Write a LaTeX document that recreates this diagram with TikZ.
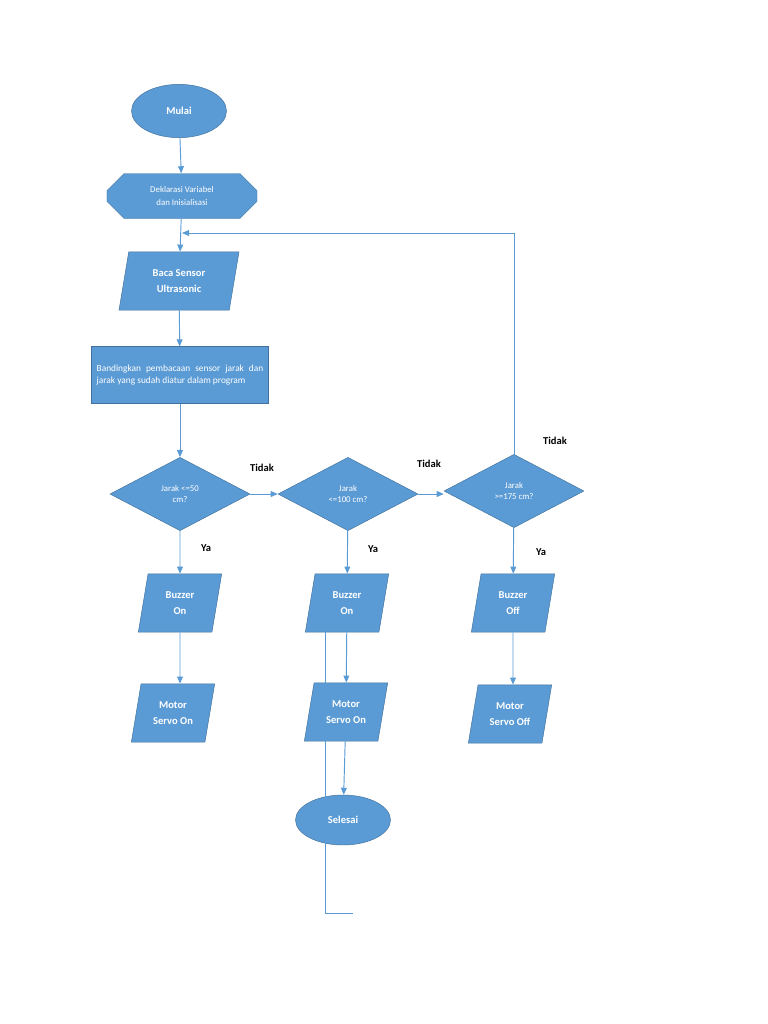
\documentclass[tikz,border=0pt]{standalone}
\usepackage{fontspec}
\setmainfont{Carlito}
\usetikzlibrary{shapes.geometric,shapes.misc,arrows.meta}
\definecolor{boxfill}{HTML}{5B9BD5}
\definecolor{boxline}{HTML}{41719C}
\tikzset{
	base/.style={draw=boxline, fill=boxfill, text=white, align=center, font=\bfseries\fontsize{9}{13}\selectfont},
	term/.style={base, ellipse, minimum width=2.85cm, minimum height=1.6cm},
	io/.style={base, trapezium, trapezium left angle=72, trapezium right angle=108, trapezium stretches body, minimum width=2.5cm, minimum height=1.75cm},
	decide/.style={base, diamond, aspect=1.9, minimum width=4.2cm, minimum height=2.2cm, font=\fontsize{7.5}{10}\selectfont, inner sep=0pt},
	flow/.style={draw=boxfill, thick, -{Triangle[length=6pt,width=5pt]}},
	lbl/.style={font=\bfseries\fontsize{9}{11}\selectfont}
}
\begin{document}
\begin{tikzpicture}[x=0.03cm, y=-0.03cm]
	\useasboundingbox (0,0) rectangle (768,1024);
	% Nodes
	\node[term] (mulai) at (179,111) {Mulai};
	\node[base, chamfered rectangle, chamfered rectangle xsep=0.45cm, minimum width=4.5cm, minimum height=1.35cm, font=\fontsize{7.5}{11}\selectfont] (deklarasi) at (182,196) {Deklarasi Variabel\\dan Inisialisasi};
	\node[io, minimum width=3.6cm] (baca) at (179,281) {Baca Sensor\\Ultrasonic};
	\node[base, rectangle, minimum width=5.3cm, minimum height=1.7cm, text width=5.0cm, align=justify, font=\fontsize{8}{11}\selectfont] (banding) at (180,375) {Bandingkan pembacaan sensor jarak dan jarak yang sudah diatur dalam program};
	\node[decide] (cek1) at (180,494) {Jarak <=50\\cm?};
	\node[decide] (cek2) at (348,494) {Jarak\\<=100 cm?};
	\node[decide] (cek3) at (514,491) {Jarak\\>=175 cm?};
	\node[io] (buzz1) at (180,603) {Buzzer\\On};
	\node[io] (motor1) at (173,713) {Motor\\Servo On};
	\node[io] (buzz2) at (347,603) {Buzzer\\On};
	\node[io] (motor2) at (346,712) {Motor\\Servo On};
	\node[io] (buzz3) at (513,603) {Buzzer\\Off};
	\node[io] (motor3) at (510,714) {Motor\\Servo Off};
	\node[term, minimum height=1.5cm] (selesai) at (343,820) {Selesai};
	\coordinate (loop) at (514,233);
	\coordinate (back) at (182,233);
	\coordinate (stray1) at (325,632);
	\coordinate (stray2) at (325,913);
	\coordinate (stray3) at (353,913);

	% Arrows
	\draw[flow] (mulai) -- (deklarasi);
	\draw[flow] (deklarasi) -- (baca);
	\draw[flow] (baca) -- (banding);
	\draw[flow] (banding) -- (cek1);
	\draw[flow] (cek1) -- (cek2);
	\draw[flow] (cek2) -- (cek3.west |- cek2);
	\draw[flow] (cek1) -- (buzz1);
	\draw[flow] (cek2) -- (buzz2);
	\draw[flow] (cek3) -- (buzz3);
	\draw[flow] (buzz1) -- (motor1.north -| buzz1);
	\draw[flow] (buzz2) -- (motor2);
	\draw[flow] (buzz3) -- (motor3.north -| buzz3);
	\draw[flow] (motor2) -- (selesai);
	\draw[flow] (cek3) -- (loop) -- (back);
	\draw[draw=boxfill, thick] (stray1) -- (stray2) -- (stray3);

	% Labels
	\node[lbl] (tidak1) at (262,468) {Tidak};
	\node[lbl] (tidak2) at (429,464) {Tidak};
	\node[lbl] (tidak3) at (555,441) {Tidak};
	\node[lbl] (ya1) at (206,548) {Ya};
	\node[lbl] (ya2) at (373,549) {Ya};
	\node[lbl] (ya3) at (541,552) {Ya};
\end{tikzpicture}
\end{document}
